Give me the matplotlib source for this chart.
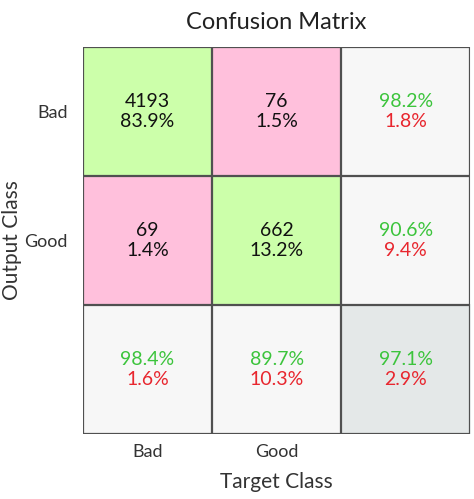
import matplotlib.pyplot as plt
import numpy as np
from matplotlib.colors import to_rgb

classes = ['Bad', 'Good']
counts = [[4193, 76], [69, 662]]
cell_pct = [[83.9, 1.5], [1.4, 13.2]]
row_correct = [98.2, 90.6]
col_correct = [98.4, 89.7]
total_correct = 97.1

green_bg, pink_bg, side_bg, corner_bg = '#ccffaa', '#ffc0dc', '#f7f7f7', '#e4e8e8'
green_txt, red_txt = '#3cc43c', '#e8262e'

plt.rcParams['font.family'] = ['Lato', 'DejaVu Sans']

n = len(classes)
img = np.zeros((n + 1, n + 1, 3))
for i in range(n + 1):
    for j in range(n + 1):
        if i == n and j == n:
            c = corner_bg
        elif i == n or j == n:
            c = side_bg
        elif i == j:
            c = green_bg
        else:
            c = pink_bg
        img[i, j] = to_rgb(c)

fig = plt.figure(figsize=(4.74, 4.99), dpi=100)
ax = fig.add_axes([0.175, 0.130, 0.817, 0.776])
ax.imshow(img, aspect='auto', extent=(-0.5, n + 0.5, n + 0.5, -0.5))

for k in range(n + 2):
    ax.axhline(k - 0.5, color='#505050', lw=1.6)
    ax.axvline(k - 0.5, color='#505050', lw=1.6)

fs = 14
off = 0.08


def two_lines(x, y, top, bottom, c_top, c_bot):
    ax.text(x, y - off, top, ha='center', va='center', fontsize=fs, color=c_top)
    ax.text(x, y + off, bottom, ha='center', va='center', fontsize=fs, color=c_bot)


for i in range(n):
    for j in range(n):
        two_lines(j, i, f'{counts[i][j]}', f'{cell_pct[i][j]}%', '#111111', '#111111')
    two_lines(n, i, f'{row_correct[i]}%', f'{100 - row_correct[i]:.1f}%', green_txt, red_txt)
    two_lines(i, n, f'{col_correct[i]}%', f'{100 - col_correct[i]:.1f}%', green_txt, red_txt)
two_lines(n, n, f'{total_correct}%', f'{100 - total_correct:.1f}%', green_txt, red_txt)

ax.set_xlim(-0.5, n + 0.5)
ax.set_ylim(n + 0.5, -0.5)
ax.set_xticks(range(n))
ax.set_xticklabels(classes, fontsize=13, color='#333333')
ax.set_yticks(range(n))
ax.set_yticklabels(classes, fontsize=13, color='#333333')
ax.tick_params(axis='y', length=0, pad=11)
ax.tick_params(axis='x', length=0, pad=7)
for s in ax.spines.values():
    s.set_visible(False)

ax.set_title('Confusion Matrix', fontsize=17, color='#222222', pad=13)
ax.set_xlabel('Target Class', fontsize=15, color='#333333', labelpad=9)
ax.set_ylabel('Output Class', fontsize=15, color='#333333')
ax.yaxis.set_label_coords(-0.158, 0.5)

plt.savefig('out.png', dpi=100)
